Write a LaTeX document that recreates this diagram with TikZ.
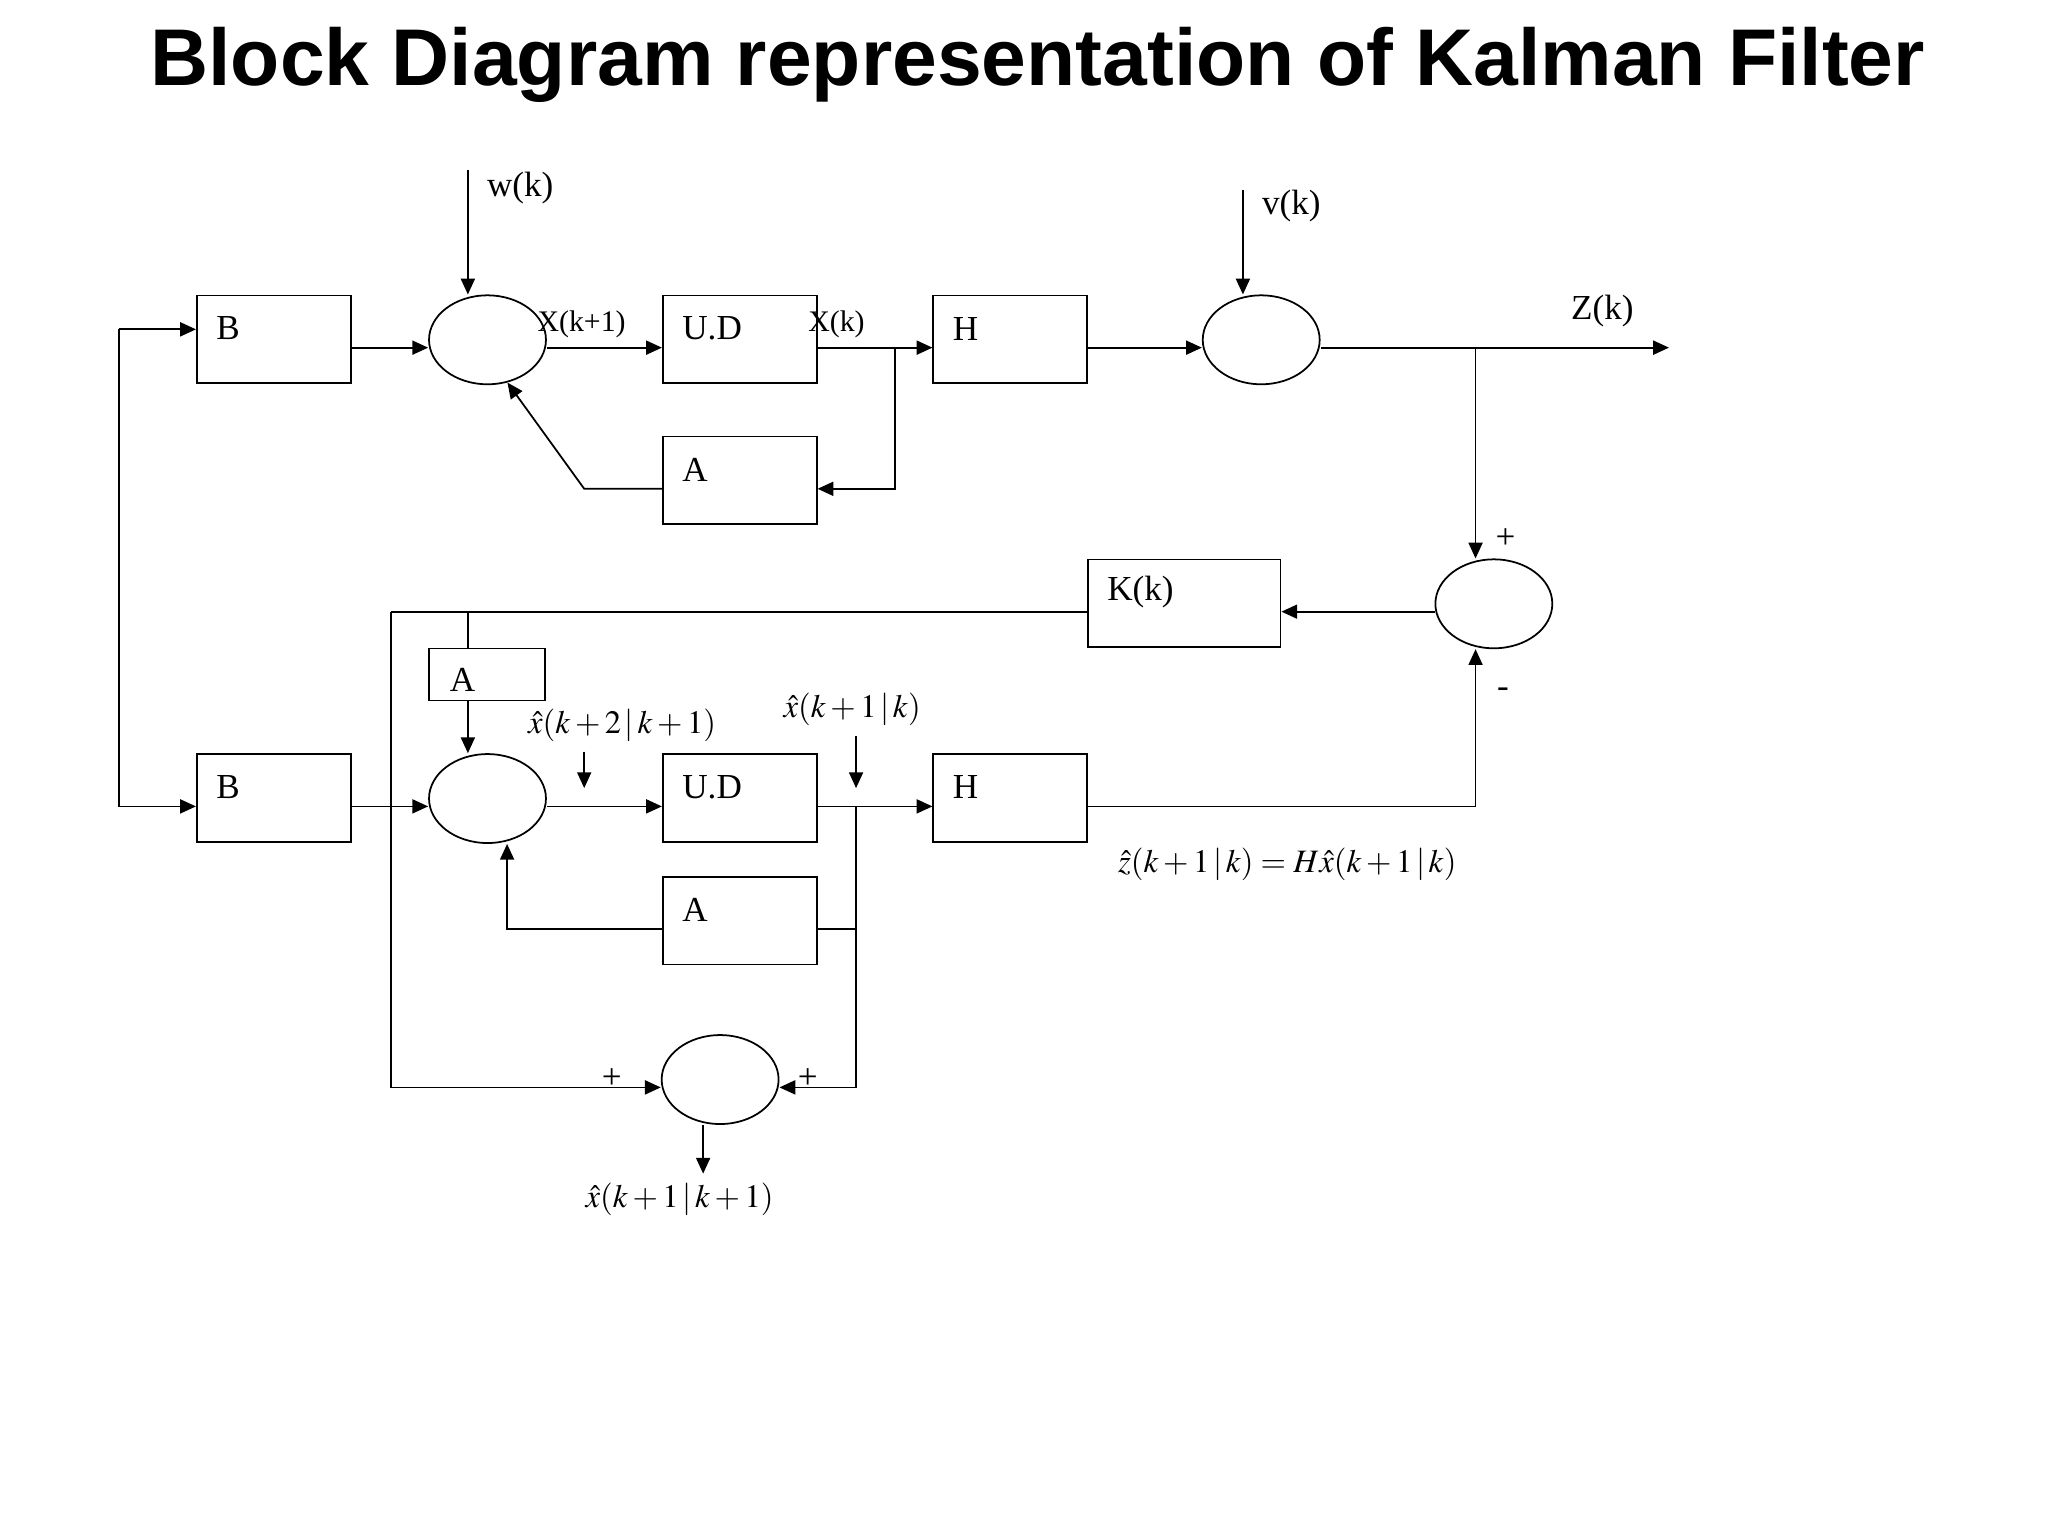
\documentclass[tikz,border=0pt]{standalone}
\usepackage{mathptmx}
\usepackage{fontspec}
\setmainfont{Liberation Serif}
\newfontfamily\titlefont{Liberation Sans}
\usetikzlibrary{shapes.geometric,arrows.meta,calc}

\begin{document}
\begin{tikzpicture}
		[
			x=0.01307cm, y=-0.01307cm,
			blk/.style = {draw=black, minimum width=1.54cm, minimum height=0.875cm, inner sep=0pt},
			sblk/.style = {draw=black, minimum width=1.16cm, minimum height=0.52cm, inner sep=0pt},
			sum/.style = {ellipse, draw=black, minimum width=1.17cm, minimum height=0.89cm, inner sep=0pt},
			lbl/.style = {anchor=west, inner sep=0pt, font=\fontsize{10}{12}\selectfont},
			txt/.style = {inner sep=0pt, font=\fontsize{10}{12}\selectfont},
			mtxt/.style = {inner sep=0pt, font=\fontsize{9.3}{11}\selectfont},
			arr/.style = {-{Triangle[length=4.5pt,width=4pt]}},
			line width=0.5pt,
		]
		\useasboundingbox (0,0) rectangle (1567,1175);

		% title
		\node[inner sep=0pt, font=\titlefont\bfseries\fontsize{22.9}{28}\selectfont] (title) at (794,50) {Block Diagram representation of Kalman Filter};

		% blocks
		\node[blk] (b1) at (209.5,259.5) {};
		\node[blk] (ud1) at (566,259.5) {};
		\node[blk] (h1) at (773,259.5) {};
		\node[blk] (a1) at (566,367.5) {};
		\node[blk, minimum width=1.93cm] (kk) at (906,461.5) {};
		\node[sblk] (a2) at (372.5,516) {};
		\node[blk] (b2) at (209.5,610.5) {};
		\node[blk] (ud2) at (566,610.5) {};
		\node[blk] (h2) at (773,610.5) {};
		\node[blk] (a3) at (566,704.5) {};

		\foreach \n/\t in {b1/B,ud1/U.D,h1/H,a1/A,kk/K(k),b2/B,ud2/U.D,h2/H,a3/A}
			\node[lbl] at ($(\n.north west)+(15,26)$) {\t};
		\node[lbl] at ($(a2.north west)+(16,25)$) {A};

		% summing junctions
		\node[sum] (s1) at (373,260) {};
		\node[sum] (s2) at (965,260) {};
		\node[sum] (s3) at (1143,462) {};
		\node[sum] (s4) at (373,611) {};
		\node[sum] (s5) at (551,826) {};

		% free ends
		\coordinate (w) at (358,130);
		\coordinate (v) at (951,145);
		\coordinate (zout) at (1277,266);
		\coordinate (fb) at (91,252);
		\coordinate (j1) at (685,266);
		\coordinate (j2) at (1129,266);
		\coordinate (kl) at (299,468);
		\coordinate (ka) at (358,468);
		\coordinate (j3) at (655,617);
		\coordinate (m1) at (447,575);
		\coordinate (m2) at (655,563);
		\coordinate (xo) at (538,898);

		% top row
		\draw[arr] (w) -- (w |- s1.north);
		\draw[arr] (v) -- (v |- s2.north);
		\draw[arr] (b1.east |- 0,266) -- (s1.west |- 0,266);
		\draw[arr] (s1.east |- 0,266) -- (ud1.west |- 0,266);
		\draw[arr] (ud1.east |- 0,266) -- (h1.west |- 0,266);
		\draw[arr] (j1) |- (a1.east |- 0,374);
		\draw[arr] (a1.west |- 0,374) -- (447,374) -- (s1.-65);
		\draw[arr] (h1.east |- 0,266) -- (s2.west |- 0,266);
		\draw[arr] (s2.east |- 0,266) -- (zout);
		\draw[arr] (j2) -- (j2 |- s3.north);

		% error to gain
		\draw[arr] (s3.west |- 0,468) -- (kk.east |- 0,468);
		\draw (kk.west |- 0,468) -- (kl);
		\draw[arr] (kl) |- (s5.west |- 0,832);
		\draw (ka) -- (a2.north -| ka);
		\draw[arr] (a2.south -| ka) -- (ka |- s4.north);

		% left feedback
		\draw[arr] (fb) -- (b1.west |- fb);
		\draw[arr] (fb) |- (b2.west |- 0,617);

		% bottom row
		\draw[arr] (b2.east |- 0,617) -- (s4.west |- 0,617);
		\draw[arr] (s4.east |- 0,617) -- (ud2.west |- 0,617);
		\draw[arr] (ud2.east |- 0,617) -- (h2.west |- 0,617);
		\draw[arr] (h2.east |- 0,617) -- (1129,617) -- (1129,0 |- s3.south);
		\draw[arr] (a3.west |- 0,711) -- (388,711) -- (388,0 |- s4.south);
		\draw (a3.east |- 0,711) -- (j3 |- 0,711);
		\draw[arr] (j3) |- (s5.east |- 0,832);
		\draw[arr] (m1) -- (447,603);
		\draw[arr] (m2) -- (655,603);
		\draw[arr] (xo |- s5.south) -- (xo);

		% texts
		\node[txt] (tw) at (398,144) {w(k)};
		\node[txt] (tv) at (988,158) {v(k)};
		\node[txt, font=\fontsize{8.5}{10}\selectfont] (tx1) at (445,248) {X(k+1)};
		\node[txt, font=\fontsize{8.5}{10}\selectfont] (tx) at (640,248) {X(k)};
		\node[txt] (tz) at (1226,238) {Z(k)};
		\node[txt] (p1) at (1152,412) {+};
		\node[txt] (m) at (1150,530) {-};
		\node[txt] (p2) at (468,825) {+};
		\node[txt] (p3) at (618,825) {+};
		\node[mtxt] (t1) at (476,555) {$\hat{x}(k+2\,|\,k+1)$};
		\node[mtxt] (t2) at (652,543) {$\hat{x}(k+1\,|\,k)$};
		\node[mtxt] (t3) at (985,661) {$\hat{z}(k+1\,|\,k)=H\hat{x}(k+1\,|\,k)$};
		\node[mtxt] (t4) at (520,918) {$\hat{x}(k+1\,|\,k+1)$};
\end{tikzpicture}
\end{document}
